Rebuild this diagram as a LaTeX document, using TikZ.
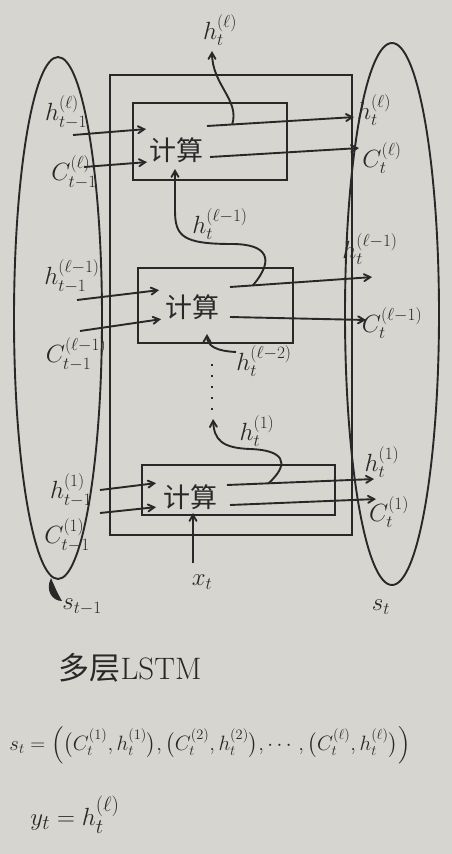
\documentclass[tikz,border=0pt]{standalone}
\usepackage{amsmath}
\usepackage{fontspec}
\newfontfamily\cjk{Noto Sans CJK SC}
\usetikzlibrary{arrows,shapes.geometric,positioning}
\definecolor{paper}{RGB}{214,213,208}
\definecolor{pencil}{RGB}{40,40,40}

\begin{document}
\begin{tikzpicture}
	[x=1pt, y=-1pt, inner sep=0pt, line width=1.9pt, color=pencil,
	cell/.style		= {rectangle, draw},
	memory/.style	= {ellipse, draw},
	paths/.style	= {->, >=angle 60, shorten >= 1pt},
	var/.style		= {font=\fontsize{25}{30}\selectfont},
	calc/.style		= {font=\cjk\fontsize{27}{32}\selectfont},
	dots/.style		= {dash pattern=on 2pt off 9pt}]

	\fill [paper] (0, 0) rectangle (452, 854);
	\useasboundingbox (0, 0) rectangle (452, 854);

	% states s_{t-1} and s_t
	\node at (58, 318)	[memory, minimum width=88, minimum height=522]	(mleft)		{};
	\node at (392, 314)	[memory, minimum width=94, minimum height=542]	(mright)	{};
	\fill (51, 578) .. controls (45, 590) and (52, 601) .. (62, 601) .. controls (57, 592) .. (51, 578);

	% stack and cells
	\node at (231, 305)		[cell, minimum width=242, minimum height=460]	(stack)	{};
	\node at (210, 141.5)	[cell, minimum width=154, minimum height=77]	(cl)	{};
	\node at (215.5, 305.5)	[cell, minimum width=155, minimum height=75]	(cm)	{};
	\node at (238.5, 490)	[cell, minimum width=193, minimum height=50]	(c1)	{};

	\node at (176, 150)		[calc]	(kl)	{计算};
	\node at (192, 307)		[calc]	(km)	{计算};
	\node at (190, 497)		[calc]	(k1)	{计算};

	% labels
	\node at (220, 30)		[var]	(htop)	{$h_t^{(\ell)}$};
	\node at (66, 112)		[var]	(hlin)	{$h_{t-1}^{(\ell)}$};
	\node at (74, 172)		[var]	(clin)	{$C_{t-1}^{(\ell)}$};
	\node at (374, 110)		[var]	(hlout)	{$h_t^{(\ell)}$};
	\node at (382, 158)		[var]	(clout)	{$C_t^{(\ell)}$};
	\node at (220, 224)		[var]	(hmid)	{$h_t^{(\ell-1)}$};
	\node at (72, 276)		[var]	(hmin)	{$h_{t-1}^{(\ell-1)}$};
	\node at (76, 354)		[var]	(cmin)	{$C_{t-1}^{(\ell-1)}$};
	\node at (370, 249)		[var]	(hmout)	{$h_t^{(\ell-1)}$};
	\node at (392, 323)		[var]	(cmout)	{$C_t^{(\ell-1)}$};
	\node at (264, 361)		[var]	(hlow)	{$h_t^{(\ell-2)}$};
	\node at (257, 431)		[var]	(hone)	{$h_t^{(1)}$};
	\node at (71, 490)		[var]	(h1in)	{$h_{t-1}^{(1)}$};
	\node at (67, 535)		[var]	(c1in)	{$C_{t-1}^{(1)}$};
	\node at (382, 462)		[var]	(h1out)	{$h_t^{(1)}$};
	\node at (389, 512)		[var]	(c1out)	{$C_t^{(1)}$};
	\node at (202, 582)		[var]	(xt)	{$x_t$};
	\node at (82, 607)		[var]	(sprev)	{$s_{t-1}$};
	\node at (381, 607)		[var]	(snow)	{$s_t$};

	% arrow ends
	\coordinate (hls) at (73, 135);		\coordinate (hle) at (147, 129);
	\coordinate (cls) at (84, 167);		\coordinate (cle) at (148, 162);
	\coordinate (hlo) at (207, 126);	\coordinate (hlt) at (355, 117);
	\coordinate (clo) at (210, 157);	\coordinate (clt) at (360, 148);
	\coordinate (hms) at (77, 300);		\coordinate (hme) at (160, 290);
	\coordinate (cms) at (80, 331);		\coordinate (cme) at (162, 319);
	\coordinate (hmo) at (230, 287);	\coordinate (hmt) at (373, 277);
	\coordinate (cmo) at (230, 317);	\coordinate (cmt) at (367, 320);
	\coordinate (h1s) at (100, 490);	\coordinate (h1e) at (157, 483);
	\coordinate (c1s) at (100, 513);	\coordinate (c1e) at (157, 507);
	\coordinate (h1o) at (227, 485);	\coordinate (h1t) at (375, 479);
	\coordinate (c1o) at (230, 505);	\coordinate (c1t) at (377, 499);
	\coordinate (kli) at (175, 168);
	\coordinate (kmi) at (207, 333);
	\coordinate (k1i) at (193, 512);
	\coordinate (xs) at (193, 563);
	\coordinate (htt) at (212, 50);
	\coordinate (hot) at (213, 418);
	\coordinate (lows) at (236, 352);

	\draw [paths] (hls) -- (hle);
	\draw [paths] (cls) -- (cle);
	\draw [paths] (hlo) -- (hlt) coordinate[pos=0.17] (jl);
	\draw [paths] (clo) -- (clt);

	\draw [paths] (hms) -- (hme);
	\draw [paths] (cms) -- (cme);
	\draw [paths] (hmo) -- (hmt) coordinate[pos=0.16] (jm);
	\draw [paths] (cmo) -- (cmt);

	\draw [paths] (h1s) -- (h1e);
	\draw [paths] (c1s) -- (c1e);
	\draw [paths] (h1o) -- (h1t) coordinate[pos=0.28] (j1);
	\draw [paths] (c1o) -- (c1t);

	% upward flow
	\draw [paths] (jl) .. controls (240, 100) and (212, 85) .. (htt);
	\draw [paths] (jm) .. controls (276, 258) and (266, 244) .. (232, 244) .. controls (182, 244) and (175, 236) .. (175, 210) -- (kli);
	\draw [paths] (lows) .. controls (216, 351) and (207, 346) .. (kmi);
	\draw [dots] (212, 364) -- (212, 412);
	\draw [paths] (j1) .. controls (292, 462) and (282, 450) .. (250, 449) .. controls (222, 448) and (214, 440) .. (hot);
	\draw [paths] (xs) -- (k1i);

	% notes
	\node at (130, 668)	[font=\fontsize{31}{36}\selectfont]	(title)	{{\cjk 多层}LSTM};
	\node at (210, 745)	[font=\fontsize{22}{26}\selectfont]	(sform)	{$s_t=\Bigl(\bigl(C_t^{(1)},h_t^{(1)}\bigr),\bigl(C_t^{(2)},h_t^{(2)}\bigr),\cdots,\bigl(C_t^{(\ell)},h_t^{(\ell)}\bigr)\Bigr)$};
	\node at (75, 815)	[font=\fontsize{30}{34}\selectfont]	(yform)	{$y_t=h_t^{(\ell)}$};
\end{tikzpicture}
\end{document}
